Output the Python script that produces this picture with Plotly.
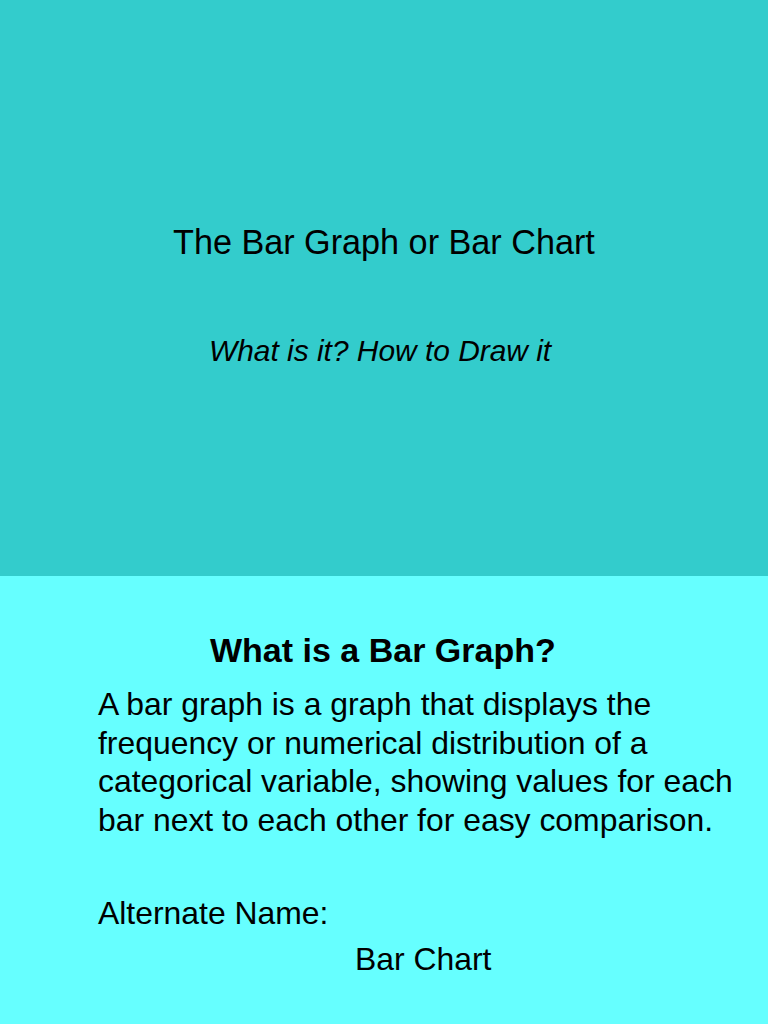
import plotly.graph_objects as go

# slide text
title_text = "The Bar Graph or Bar Chart"
subtitle_text = "What is it? How to Draw it"
heading_text = "What is a Bar Graph?"
body_lines = [
    "A bar graph is a graph that displays the",
    "frequency or numerical distribution of a",
    "categorical variable, showing values for each",
    "bar next to each other for easy comparison.",
]
alt_label = "Alternate Name:"
alt_name = "Bar Chart"

W, H = 768, 1024
font = "Liberation Sans, Arial, sans-serif"

fig = go.Figure()

# two background panels
fig.add_shape(type="rect", x0=0, x1=W, y0=0, y1=576, fillcolor="#33CCCC", line_width=0, layer="below")
fig.add_shape(type="rect", x0=0, x1=W, y0=576, y1=H, fillcolor="#66FFFF", line_width=0, layer="below")


def txt(x, y, s, size, anchor="center", italic=False, bold=False):
    if bold:
        s = "<b>" + s + "</b>"
    if italic:
        s = "<i>" + s + "</i>"
    fig.add_annotation(x=x, y=y, text=s, showarrow=False, xanchor=anchor, yanchor="middle",
                       font=dict(family=font, size=size, color="#000000"))


txt(384, 242, title_text, 34.2)
txt(381, 350, subtitle_text, 29.9, italic=True)
txt(383, 650, heading_text, 34, bold=True)
for i, line in enumerate(body_lines):
    txt(96, 704 + i * 38.7, line, 31.9, anchor="left")
txt(96, 913, alt_label, 31.9, anchor="left")
txt(353, 959, alt_name, 31.9, anchor="left")

fig.update_xaxes(range=[0, W], visible=False, fixedrange=True)
fig.update_yaxes(range=[H, 0], visible=False, fixedrange=True)
fig.update_layout(
    width=W, height=H,
    margin=dict(l=0, r=0, t=0, b=0),
    paper_bgcolor="#66FFFF", plot_bgcolor="#66FFFF",
    showlegend=False,
)

fig.write_html("out.html", config={"displayModeBar": False},
               post_script="document.body.style.margin='0';document.body.style.overflow='hidden';")
